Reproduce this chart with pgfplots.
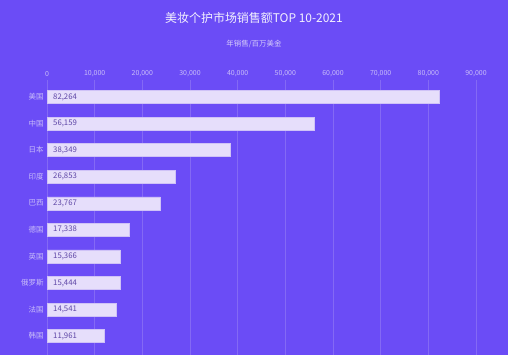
\documentclass[border=0pt]{standalone}
\usepackage{pgfplots}
\pgfplotsset{compat=1.18}
\usepackage{fontspec}
\setmainfont{Noto Sans CJK SC}
\definecolor{bg}{HTML}{6B4CF6}
\definecolor{gridc}{HTML}{8469F5}
\definecolor{barc}{HTML}{E6DEFB}
\definecolor{barb}{HTML}{CFC2F7}
\definecolor{tickc}{HTML}{C9BDF9}
\definecolor{valc}{HTML}{5E46A6}
\begin{document}
\begin{tikzpicture}[x=1bp,y=1bp]
\fill[bg] (0,0) rectangle (508,355);
\node[text=white!92!bg, font=\fontsize{12}{14}\selectfont] at (254,337) {美妆个护市场销售额TOP 10-2021};
\node[text=tickc!80!white, font=\fontsize{7.5}{9}\selectfont] at (254,311) {年销售/百万美金};
\begin{axis}[
  at={(47bp,0bp)}, anchor=south west,
  scale only axis, width=429bp, height=275bp,
  xmin=0, xmax=90000,
  ymin=-0.64, ymax=9.71, y dir=reverse,
  axis line style={draw=none},
  xtick={0,10000,...,90000},
  xticklabel pos=upper,
  scaled x ticks=false,
  /pgf/number format/assume math mode=true,
  xticklabel style={font=\fontsize{7}{8}\selectfont, text=tickc, yshift=0bp},
  xmajorgrids, major grid style={draw=gridc, line width=0.8bp},
  tick style={draw=none},
  ytick={0,...,9},
  yticklabels={美国,中国,日本,印度,巴西,德国,英国,俄罗斯,法国,韩国},
  yticklabel style={font=\fontsize{7.5}{8}\selectfont, text=tickc, xshift=0bp},
  major tick length=0pt,
  clip=false,
]
\addplot[xbar, bar width=13bp, fill=barc, draw=barb, line width=0.5bp] coordinates {
(82264,0) (56159,1) (38349,2) (26853,3) (23767,4) (17338,5) (15366,6) (15444,7) (14541,8) (11961,9)
};
\addplot[only marks, mark=none, point meta=explicit,
  nodes near coords={\pgfmathprintnumber[fixed, 1000 sep={,}, assume math mode=true]{\pgfplotspointmeta}},
  nodes near coords style={anchor=west, text=valc, font=\fontsize{7.8}{9}\selectfont, xshift=5bp, inner sep=1bp}]
coordinates {
(0,0) [82264] (0,1) [56159] (0,2) [38349] (0,3) [26853] (0,4) [23767] (0,5) [17338] (0,6) [15366] (0,7) [15444] (0,8) [14541] (0,9) [11961]
};
\end{axis}
\end{tikzpicture}
\end{document}
